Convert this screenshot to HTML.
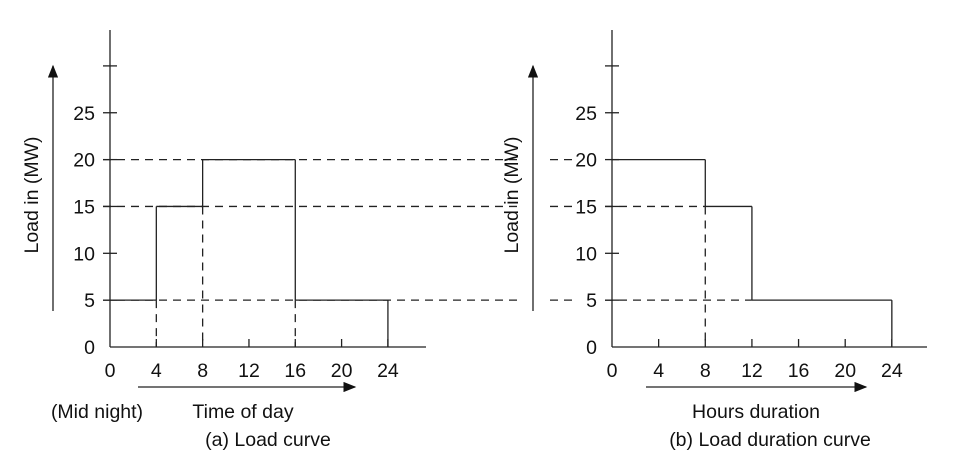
<!DOCTYPE html>
<html><head><meta charset="utf-8"><style>
body{margin:0;background:#fff;width:960px;height:460px;overflow:hidden}
svg text{font-family:"Liberation Sans",Arial,sans-serif;fill:#111}
</style></head><body>
<svg id="c" width="960" height="460" xmlns="http://www.w3.org/2000/svg">
<defs><marker id="ah" markerWidth="10" markerHeight="8" refX="9" refY="4" orient="auto"><path d="M0,0 L10,4 L0,8 z" fill="#111"/></marker></defs>
</svg>
<script>
const xTicks=[0,4,8,12,16,20,24];
const yTicks=[5,10,15,20,25];
const loadHours=[0,4,8,16,24];
const loadValues=[5,15,20,5];
const durHours=[0,8,12,24];
const durValues=[20,15,5];
const svg=document.getElementById('c');
const NS='http://www.w3.org/2000/svg';
const FS=19.5;
function el(t,a,txt){const e=document.createElementNS(NS,t);for(const k in a)e.setAttribute(k,a[k]);if(txt!==undefined)e.textContent=txt;svg.appendChild(e);return e;}
const yS=v=>347-v*9.37;
function line(x1,y1,x2,y2,dash,name){const e=el('line',{x1,y1,x2,y2,stroke:'#222','stroke-width':1.3,'stroke-dasharray':dash?'8,6':'none'});

return e;}
function txt(x,y,s,anchor,name,size){const e=el('text',{x,y,'font-size':size||FS,'text-anchor':anchor||'middle'},s);

return e;}
function axes(x0,xEnd,xS,pref,arrowX){
  line(x0,30,x0,347,false,pref+'-y-axis');
  line(x0,347,xEnd,347,false,pref+'-x-axis');
  [...yTicks,30].forEach(v=>line(x0-7,yS(v),x0+7,yS(v),false,pref+'-y-tick'));
  yTicks.forEach(v=>txt(x0-15,yS(v)+7,String(v),'end',pref+'-y-tick-label'));
  txt(x0-15,354,'0','end',pref+'-y-tick-label');
  xTicks.forEach(v=>{if(v>0)line(xS(v),339,xS(v),347,false,pref+'-x-tick');txt(xS(v),377,String(v),'middle',pref+'-x-tick-label');});
  const a=line(arrowX,311,arrowX,66,false,pref+'-y-arrow');a.setAttribute('marker-end','url(#ah)');
  const t=txt(0,0,'Load in (MW)','middle',pref+'-y-axis-title');t.setAttribute('transform','translate('+(arrowX-15)+',195) rotate(-90)');
}
// left
const xL=v=>110+v*11.58;
axes(110,426,xL,'left',53);
[20,15,5].forEach(v=>{line(103,yS(v),522,yS(v),true,'guide-dash-'+v);line(550,yS(v),573,yS(v),true,'guide-dash-right-'+v);});
for(let i=0;i<loadValues.length;i++){
  line(xL(loadHours[i]),yS(loadValues[i]),xL(loadHours[i+1]),yS(loadValues[i]),false,'load-step');
  if(i<loadValues.length-1){const a=loadValues[i],b=loadValues[i+1];
    line(xL(loadHours[i+1]),yS(a),xL(loadHours[i+1]),yS(b),false,'load-riser');
    line(xL(loadHours[i+1]),yS(Math.min(a,b)),xL(loadHours[i+1]),347,true,'load-drop-dash');}
}
line(xL(24),yS(loadValues[loadValues.length-1]),xL(24),347,false,'load-end');
const ax1=line(138,387,355,387,false,'time-arrow');ax1.setAttribute('marker-end','url(#ah)');
txt(97,418,'(Mid night)','middle','midnight-label');
txt(243,418,'Time of day','middle','x-axis-title-left');
txt(268,446,'(a) Load curve','middle','caption-a');
// right
const xR=v=>612+v*11.66;
axes(612,927,xR,'right',533);
for(let i=0;i<durValues.length;i++){
  line(xR(durHours[i]),yS(durValues[i]),xR(durHours[i+1]),yS(durValues[i]),false,'duration-step');
  if(i<durValues.length-1)line(xR(durHours[i+1]),yS(durValues[i]),xR(durHours[i+1]),yS(durValues[i+1]),false,'duration-riser');
}
line(xR(24),yS(durValues[durValues.length-1]),xR(24),347,false,'duration-end');
line(605,yS(durValues[1]),xR(durHours[1]),yS(durValues[1]),true,'duration-dash-15');
line(605,yS(durValues[2]),xR(durHours[2]),yS(durValues[2]),true,'duration-dash-5');
line(xR(durHours[1]),yS(durValues[1]),xR(durHours[1]),347,true,'duration-drop-dash');
const ax2=line(646,387,866,387,false,'hours-arrow');ax2.setAttribute('marker-end','url(#ah)');
txt(756,418,'Hours duration','middle','x-axis-title-right');
txt(770,446,'(b) Load duration curve','middle','caption-b');
</script>
</body></html>
